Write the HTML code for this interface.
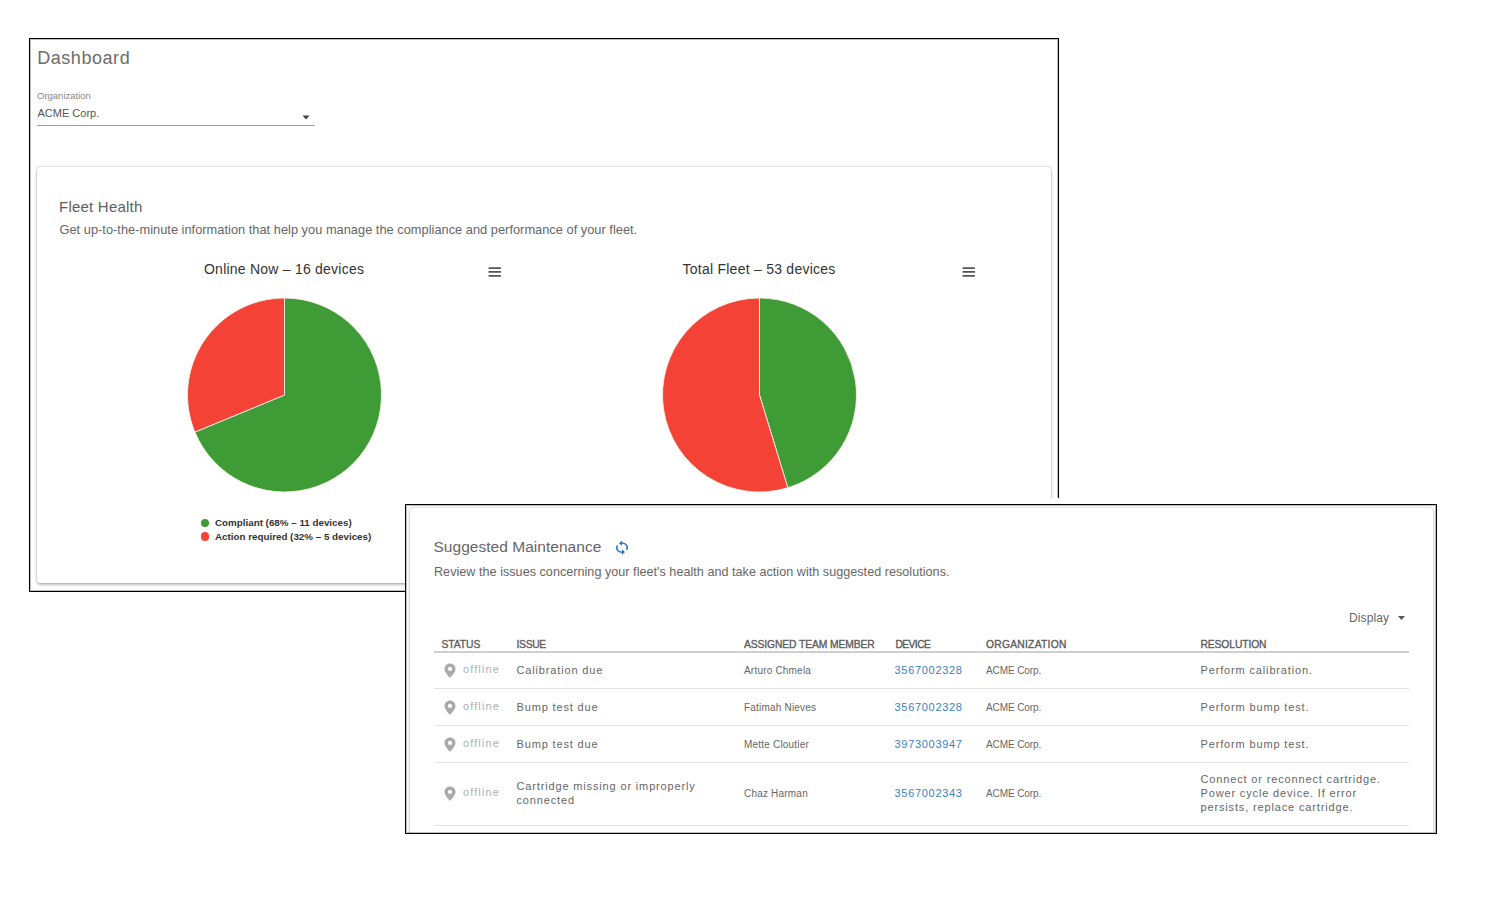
<!DOCTYPE html>
<html><head><meta charset="utf-8"><style>
html,body{margin:0;padding:0;background:#fff;}
body{width:1500px;height:900px;position:relative;overflow:hidden;font-family:"Liberation Sans",sans-serif;}
.t{position:absolute;white-space:nowrap;line-height:1em;}
.a{position:absolute;display:block;}
#f1{position:absolute;left:29px;top:38px;width:1030px;height:554px;border:1px solid #000;box-shadow:inset 0 0 0 1px rgba(0,0,0,.25);box-sizing:border-box;background:#fff;}
#c1{position:absolute;left:37px;top:167px;width:1014px;height:416px;background:#fff;border-radius:3px;box-shadow:0 0 3px rgba(0,0,0,.22),0 2px 3px rgba(0,0,0,.22),0 0 1px rgba(0,0,0,.16);}
#p2{position:absolute;left:405px;top:498px;width:1032px;height:336px;background:#fff;}
#f2{position:absolute;left:405px;top:504px;width:1032px;height:330px;border:1px solid #000;box-sizing:border-box;background:#fff;overflow:hidden;}
#f2b{position:absolute;left:405px;top:504px;width:1032px;height:330px;box-shadow:inset 0 0 0 1px #000,inset 0 0 0 2px rgba(0,0,0,.25);box-sizing:border-box;}
#c2{position:absolute;left:4px;top:3px;width:1023px;height:400px;background:#fff;border-radius:3px;box-shadow:0 0 3px rgba(0,0,0,.22),0 2px 3px rgba(0,0,0,.22),0 0 1px rgba(0,0,0,.16);}
.hl{position:absolute;height:1px;background:#e3e3e3;}
</style></head><body>
<div id="f1"></div>
<div id="c1"></div>
<div class="t" style="left:37.20px;top:48.76px;font-size:18px;color:#6c6c6c;font-weight:normal;letter-spacing:0.55px;">Dashboard</div>
<div class="t" style="left:37.00px;top:90.96px;font-size:9.5px;color:#888;font-weight:normal;letter-spacing:0px;">Organization</div>
<div class="t" style="left:37.50px;top:108.19px;font-size:11px;color:#555;font-weight:normal;letter-spacing:0px;">ACME Corp.</div>
<div class="a" style="left:37px;top:125px;width:278px;height:1px;background:#a0a0a0"></div>
<svg class="a" style="left:302px;top:115px" width="8" height="5" viewBox="0 0 8 5"><path d="M0.5,0.5 L7.5,0.5 L4,4.5 Z" fill="#444"/></svg>
<div class="t" style="left:59.00px;top:198.70px;font-size:15px;color:#5e5e5e;font-weight:normal;letter-spacing:0.22px;">Fleet Health</div>
<div class="t" style="left:59.50px;top:223.66px;font-size:12.8px;color:#666;font-weight:normal;letter-spacing:0.023px;">Get up-to-the-minute information that help you manage the compliance and performance of your fleet.</div>
<div class="t" style="left:204.00px;top:261.75px;font-size:14px;color:#333;font-weight:normal;letter-spacing:0.23px;">Online Now – 16 devices</div>
<div class="t" style="left:682.50px;top:261.75px;font-size:14px;color:#333;font-weight:normal;letter-spacing:0.25px;">Total Fleet – 53 devices</div>
<svg class="a" style="left:487.5px;top:266.5px" width="14" height="10" viewBox="0 0 14 10"><path d="M1.2,1.1 H12.3 M1.2,4.95 H12.3 M1.2,8.8 H12.3" stroke="#555" stroke-width="1.7" stroke-linecap="round"/></svg>
<svg class="a" style="left:962px;top:266.5px" width="14" height="10" viewBox="0 0 14 10"><path d="M1.2,1.1 H12.3 M1.2,4.95 H12.3 M1.2,8.8 H12.3" stroke="#555" stroke-width="1.7" stroke-linecap="round"/></svg>
<svg class="a" style="left:0;top:0" width="1100" height="600"><path d="M284.5,395 L284.5,298 A97,97 0 1 1 194.88,432.12 Z" fill="#3f9b35" stroke="#f6efe4" stroke-width="0.9" stroke-linejoin="round"/><path d="M284.5,395 L194.88,432.12 A97,97 0 0 1 284.5,298 Z" fill="#f44336" stroke="#f6efe4" stroke-width="0.9" stroke-linejoin="round"/><path d="M759.5,395 L759.5,298 A97,97 0 0 1 787.83,487.77 Z" fill="#3f9b35" stroke="#f6efe4" stroke-width="0.9" stroke-linejoin="round"/><path d="M759.5,395 L787.83,487.77 A97,97 0 1 1 759.5,298 Z" fill="#f44336" stroke="#f6efe4" stroke-width="0.9" stroke-linejoin="round"/></svg>
<div class="a" style="left:200.85px;top:518.6px;width:8.5px;height:8.5px;border-radius:50%;background:#3f9b35"></div>
<div class="a" style="left:200.85px;top:532.45px;width:8.5px;height:8.5px;border-radius:50%;background:#f44336"></div>
<div class="t" style="left:215.00px;top:517.90px;font-size:9.8px;color:#333;font-weight:bold;letter-spacing:0px;">Compliant (68% – 11 devices)</div>
<div class="t" style="left:215.00px;top:532.00px;font-size:9.8px;color:#333;font-weight:bold;letter-spacing:0px;">Action required (32% – 5 devices)</div>
<div id="p2"></div>
<div id="f2"><div id="c2"></div></div>
<div id="f2b"></div>
<div class="t" style="left:433.50px;top:539.28px;font-size:15.5px;color:#666;font-weight:normal;letter-spacing:0.03px;">Suggested Maintenance</div>
<svg class="a" style="left:613px;top:539.8px" width="18" height="15.3" viewBox="0 0 24 24" preserveAspectRatio="none"><path d="M12 4V1L8 5l4 4V6c3.31 0 6 2.69 6 6 0 1.01-.25 1.97-.7 2.8l1.46 1.46C19.54 15.03 20 13.57 20 12c0-4.42-3.58-8-8-8zm0 14c-3.31 0-6-2.69-6-6 0-1.01.25-1.97.7-2.8L5.24 7.74C4.46 8.97 4 10.43 4 12c0 4.42 3.58 8 8 8v3l4-4-4-4v3z" fill="#1f6fc0"/></svg>
<div class="t" style="left:434.00px;top:565.93px;font-size:12.6px;color:#666;font-weight:normal;letter-spacing:0.03px;">Review the issues concerning your fleet's health and take action with suggested resolutions.</div>
<div class="t" style="left:1349.00px;top:611.84px;font-size:12px;color:#666;font-weight:normal;letter-spacing:0.1px;">Display</div>
<svg class="a" style="left:1397px;top:614.5px" width="9" height="6" viewBox="0 0 9 6"><path d="M1,1 L8,1 L4.5,5 Z" fill="#555"/></svg>
<div class="t" style="left:441.50px;top:639.68px;font-size:10.3px;color:#5c5c5c;font-weight:normal;letter-spacing:-0.05px;-webkit-text-stroke:0.35px #5c5c5c;">STATUS</div>
<div class="t" style="left:516.50px;top:639.68px;font-size:10.3px;color:#5c5c5c;font-weight:normal;letter-spacing:-0.3px;-webkit-text-stroke:0.35px #5c5c5c;">ISSUE</div>
<div class="t" style="left:744.00px;top:639.68px;font-size:10.3px;color:#5c5c5c;font-weight:normal;letter-spacing:-0.1px;-webkit-text-stroke:0.35px #5c5c5c;">ASSIGNED TEAM MEMBER</div>
<div class="t" style="left:895.50px;top:639.68px;font-size:10.3px;color:#5c5c5c;font-weight:normal;letter-spacing:-0.6px;-webkit-text-stroke:0.35px #5c5c5c;">DEVICE</div>
<div class="t" style="left:986.00px;top:639.68px;font-size:10.3px;color:#5c5c5c;font-weight:normal;letter-spacing:0.25px;-webkit-text-stroke:0.35px #5c5c5c;">ORGANIZATION</div>
<div class="t" style="left:1200.50px;top:639.68px;font-size:10.3px;color:#5c5c5c;font-weight:normal;letter-spacing:-0.1px;-webkit-text-stroke:0.35px #5c5c5c;">RESOLUTION</div>
<div class="a" style="left:434px;top:651px;width:975px;height:2px;background:#cfcfcf"></div>
<svg class="a" style="left:444px;top:663.4px" width="12" height="15" viewBox="0 0 12 15"><path d="M6,0.5 C2.9,0.5 0.5,2.9 0.5,6 C0.5,9.6 6,14.8 6,14.8 C6,14.8 11.5,9.6 11.5,6 C11.5,2.9 9.1,0.5 6,0.5 Z M6,3.8 A2.1,2.1 0 1 1 6,8 A2.1,2.1 0 1 1 6,3.8 Z" fill="#aaa" fill-rule="evenodd"/></svg>
<div class="t" style="left:463.00px;top:664.09px;font-size:11px;color:#b0b0b0;font-weight:normal;letter-spacing:1.1px;">offline</div>
<div class="t" style="left:516.50px;top:665.09px;font-size:11px;color:#666;font-weight:normal;letter-spacing:0.85px;">Calibration due</div>
<div class="t" style="left:744.00px;top:666.43px;font-size:10px;color:#666;font-weight:normal;letter-spacing:0.2px;">Arturo Chmela</div>
<div class="t" style="left:894.50px;top:665.09px;font-size:11px;color:#3a82c4;font-weight:normal;letter-spacing:0.7px;">3567002328</div>
<div class="t" style="left:986.00px;top:666.43px;font-size:10px;color:#666;font-weight:normal;letter-spacing:-0.1px;">ACME Corp.</div>
<div class="t" style="left:1200.50px;top:665.09px;font-size:11px;color:#666;font-weight:normal;letter-spacing:0.85px;">Perform calibration.</div>
<svg class="a" style="left:444px;top:700.4px" width="12" height="15" viewBox="0 0 12 15"><path d="M6,0.5 C2.9,0.5 0.5,2.9 0.5,6 C0.5,9.6 6,14.8 6,14.8 C6,14.8 11.5,9.6 11.5,6 C11.5,2.9 9.1,0.5 6,0.5 Z M6,3.8 A2.1,2.1 0 1 1 6,8 A2.1,2.1 0 1 1 6,3.8 Z" fill="#aaa" fill-rule="evenodd"/></svg>
<div class="t" style="left:463.00px;top:701.09px;font-size:11px;color:#b0b0b0;font-weight:normal;letter-spacing:1.1px;">offline</div>
<div class="t" style="left:516.50px;top:702.09px;font-size:11px;color:#666;font-weight:normal;letter-spacing:0.85px;">Bump test due</div>
<div class="t" style="left:744.00px;top:703.43px;font-size:10px;color:#666;font-weight:normal;letter-spacing:0.2px;">Fatimah Nieves</div>
<div class="t" style="left:894.50px;top:702.09px;font-size:11px;color:#3a82c4;font-weight:normal;letter-spacing:0.7px;">3567002328</div>
<div class="t" style="left:986.00px;top:703.43px;font-size:10px;color:#666;font-weight:normal;letter-spacing:-0.1px;">ACME Corp.</div>
<div class="t" style="left:1200.50px;top:702.09px;font-size:11px;color:#666;font-weight:normal;letter-spacing:0.85px;">Perform bump test.</div>
<svg class="a" style="left:444px;top:737.4px" width="12" height="15" viewBox="0 0 12 15"><path d="M6,0.5 C2.9,0.5 0.5,2.9 0.5,6 C0.5,9.6 6,14.8 6,14.8 C6,14.8 11.5,9.6 11.5,6 C11.5,2.9 9.1,0.5 6,0.5 Z M6,3.8 A2.1,2.1 0 1 1 6,8 A2.1,2.1 0 1 1 6,3.8 Z" fill="#aaa" fill-rule="evenodd"/></svg>
<div class="t" style="left:463.00px;top:738.09px;font-size:11px;color:#b0b0b0;font-weight:normal;letter-spacing:1.1px;">offline</div>
<div class="t" style="left:516.50px;top:739.09px;font-size:11px;color:#666;font-weight:normal;letter-spacing:0.85px;">Bump test due</div>
<div class="t" style="left:744.00px;top:740.43px;font-size:10px;color:#666;font-weight:normal;letter-spacing:0.2px;">Mette Cloutier</div>
<div class="t" style="left:894.50px;top:739.09px;font-size:11px;color:#3a82c4;font-weight:normal;letter-spacing:0.7px;">3973003947</div>
<div class="t" style="left:986.00px;top:740.43px;font-size:10px;color:#666;font-weight:normal;letter-spacing:-0.1px;">ACME Corp.</div>
<div class="t" style="left:1200.50px;top:739.09px;font-size:11px;color:#666;font-weight:normal;letter-spacing:0.85px;">Perform bump test.</div>
<svg class="a" style="left:444px;top:786.4px" width="12" height="15" viewBox="0 0 12 15"><path d="M6,0.5 C2.9,0.5 0.5,2.9 0.5,6 C0.5,9.6 6,14.8 6,14.8 C6,14.8 11.5,9.6 11.5,6 C11.5,2.9 9.1,0.5 6,0.5 Z M6,3.8 A2.1,2.1 0 1 1 6,8 A2.1,2.1 0 1 1 6,3.8 Z" fill="#aaa" fill-rule="evenodd"/></svg>
<div class="t" style="left:463.00px;top:787.09px;font-size:11px;color:#b0b0b0;font-weight:normal;letter-spacing:1.1px;">offline</div>
<div class="t" style="left:516.50px;top:781.09px;font-size:11px;color:#666;font-weight:normal;letter-spacing:0.85px;">Cartridge missing or improperly</div>
<div class="t" style="left:516.50px;top:795.09px;font-size:11px;color:#666;font-weight:normal;letter-spacing:0.85px;">connected</div>
<div class="t" style="left:744.00px;top:789.43px;font-size:10px;color:#666;font-weight:normal;letter-spacing:0.2px;">Chaz Harman</div>
<div class="t" style="left:894.50px;top:788.09px;font-size:11px;color:#3a82c4;font-weight:normal;letter-spacing:0.7px;">3567002343</div>
<div class="t" style="left:986.00px;top:789.43px;font-size:10px;color:#666;font-weight:normal;letter-spacing:-0.1px;">ACME Corp.</div>
<div class="t" style="left:1200.50px;top:773.69px;font-size:11px;color:#666;font-weight:normal;letter-spacing:0.85px;">Connect or reconnect cartridge.</div>
<div class="t" style="left:1200.50px;top:788.09px;font-size:11px;color:#666;font-weight:normal;letter-spacing:0.85px;">Power cycle device. If error</div>
<div class="t" style="left:1200.50px;top:802.49px;font-size:11px;color:#666;font-weight:normal;letter-spacing:0.85px;">persists, replace cartridge.</div>
<div class="hl" style="left:434px;top:688px;width:975px;"></div>
<div class="hl" style="left:434px;top:725px;width:975px;"></div>
<div class="hl" style="left:434px;top:762px;width:975px;"></div>
<div class="hl" style="left:434px;top:825px;width:975px;"></div>
</body></html>
